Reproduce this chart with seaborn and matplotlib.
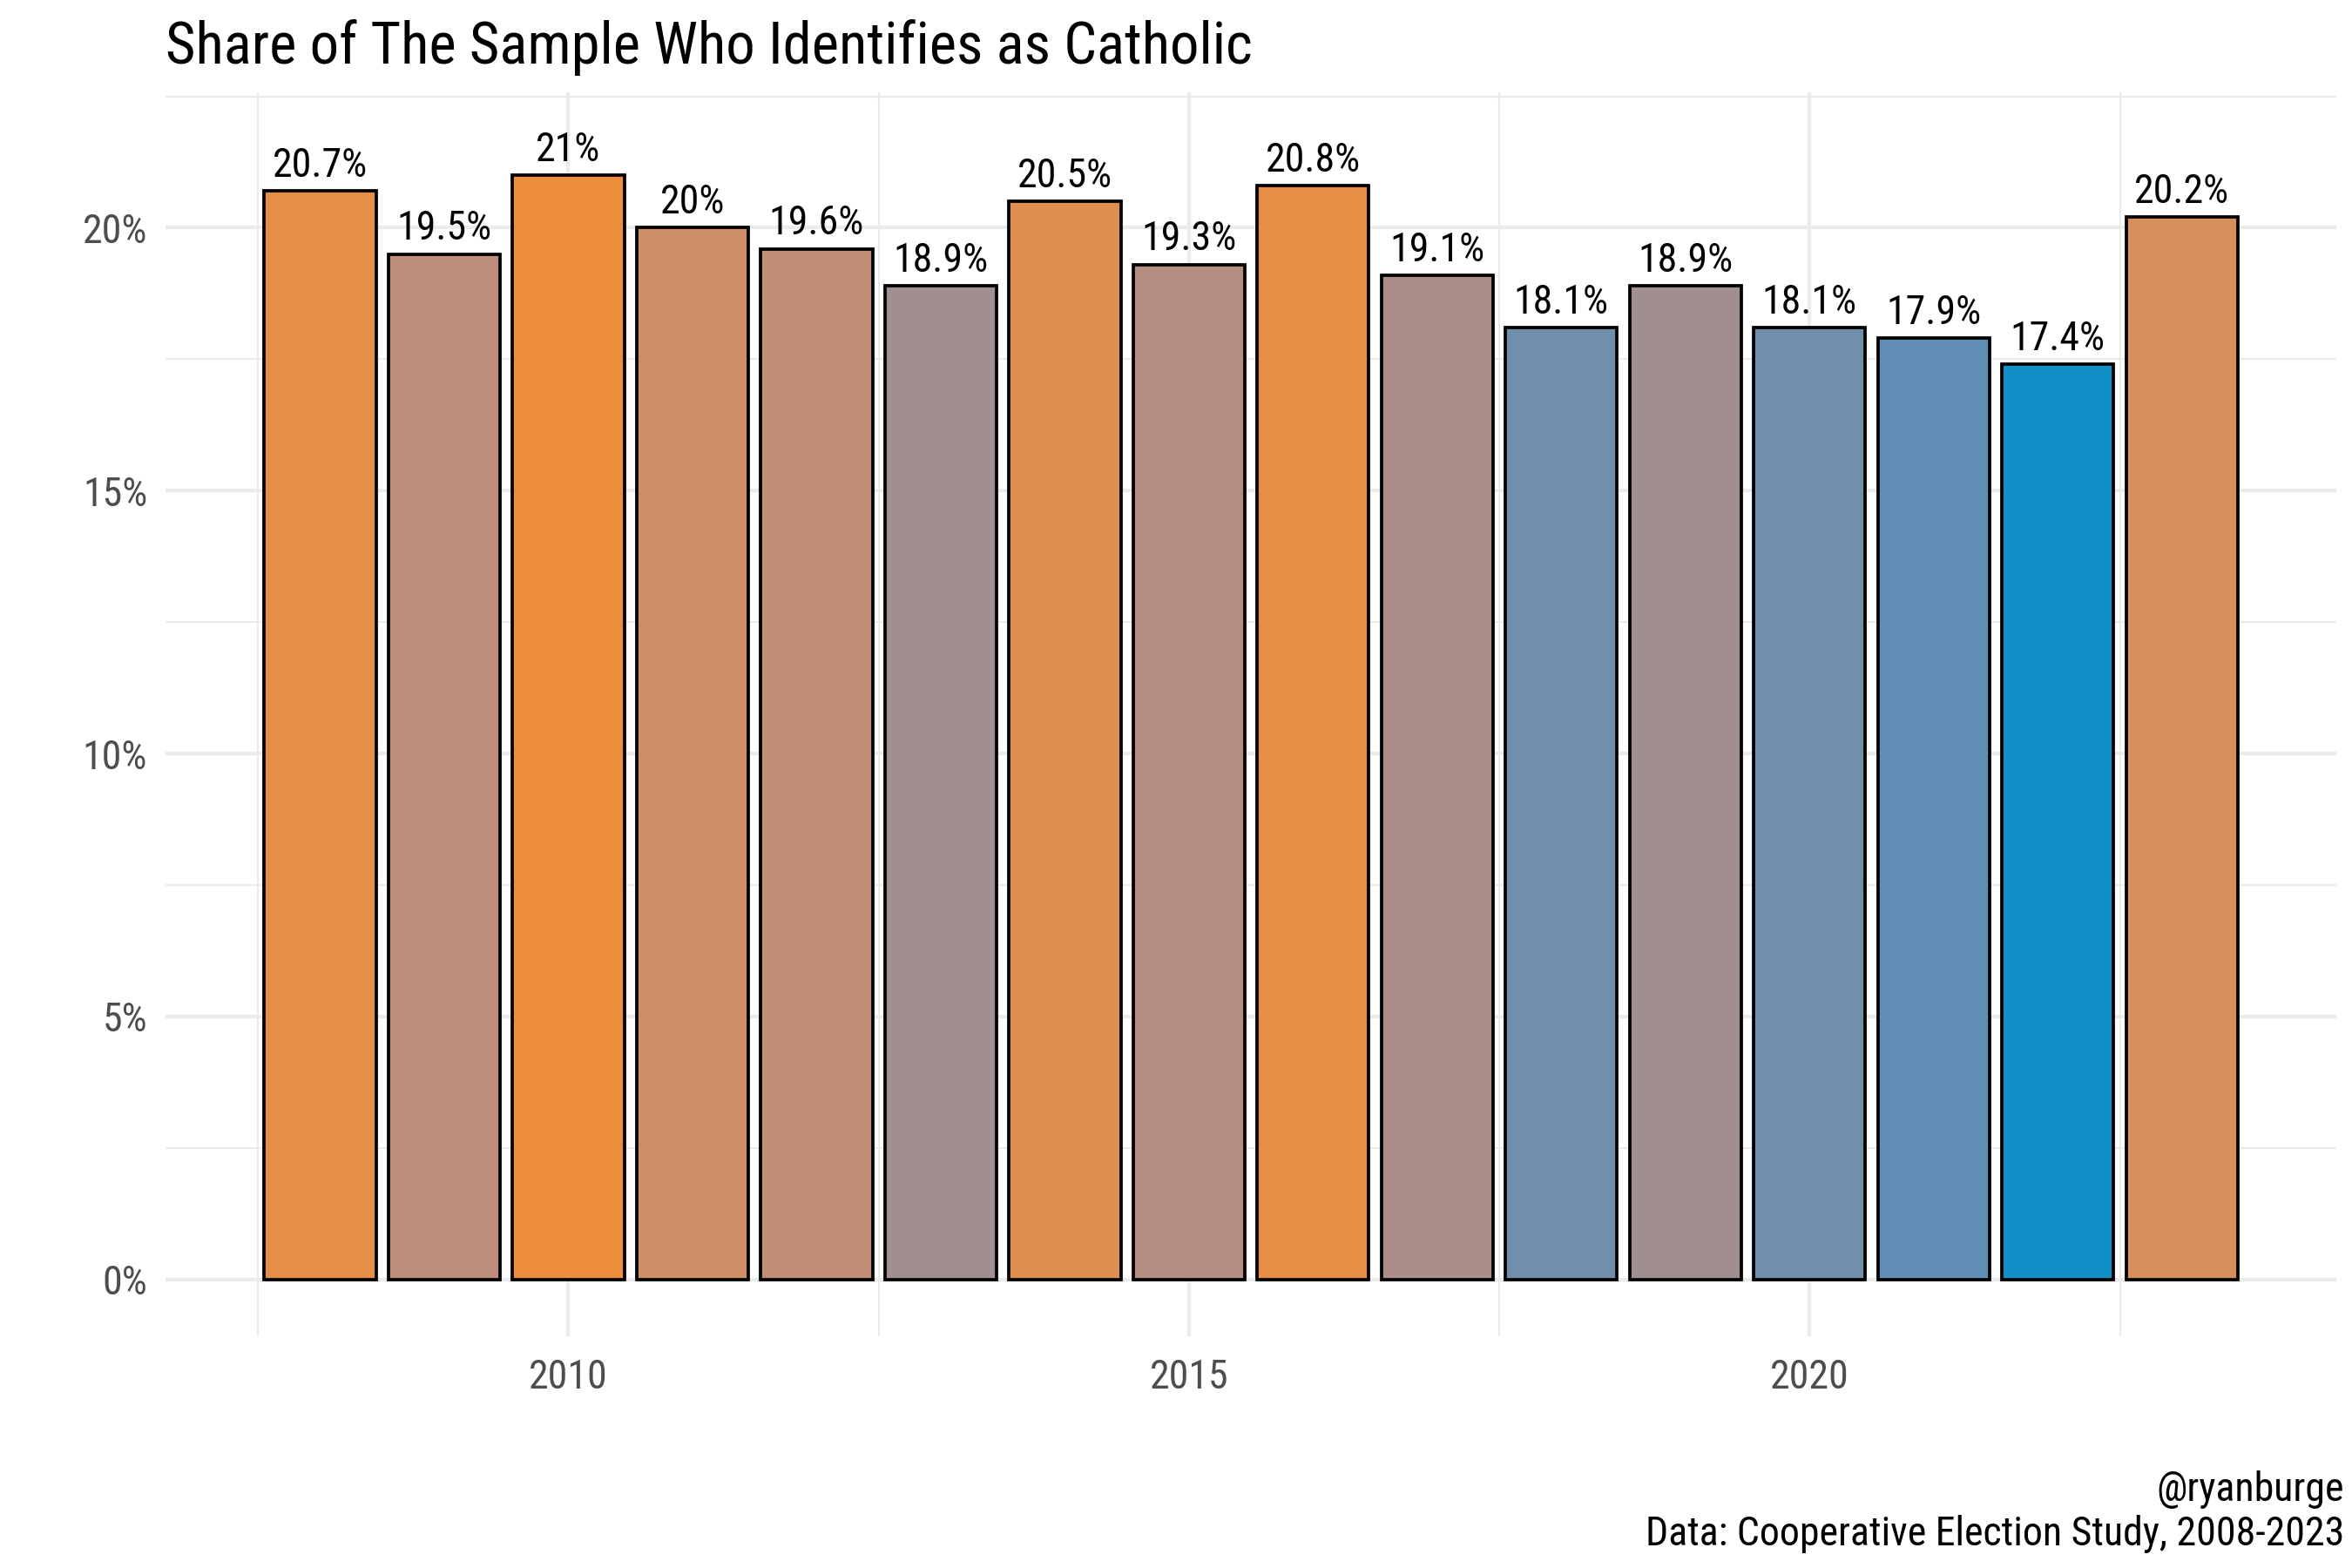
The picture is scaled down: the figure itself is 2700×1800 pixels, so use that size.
import matplotlib
matplotlib.use("Agg")
import matplotlib.pyplot as plt
import matplotlib.font_manager as fm
from matplotlib.colors import LinearSegmentedColormap
from matplotlib.ticker import MultipleLocator, FuncFormatter
import pandas as pd
import seaborn as sns

# ---- data ----
years = [2008, 2009, 2010, 2011, 2012, 2013, 2014, 2015,
         2016, 2017, 2018, 2019, 2020, 2021, 2022, 2023]
share = [20.7, 19.5, 21.0, 20.0, 19.6, 18.9, 20.5, 19.3,
         20.8, 19.1, 18.1, 18.9, 18.1, 17.9, 17.4, 20.2]
bar_labels = ["20.7%", "19.5%", "21%", "20%", "19.6%", "18.9%", "20.5%", "19.3%",
              "20.8%", "19.1%", "18.1%", "18.9%", "18.1%", "17.9%", "17.4%", "20.2%"]

title = "Share of The Sample Who Identifies as Catholic"
caption_1 = "@ryanburge"
caption_2 = "Data: Cooperative Election Study, 2008-2023"

df = pd.DataFrame({"year": years, "share": share, "label": bar_labels})

# ---- fonts: try a narrow face to mimic the condensed look ----
sns.set_style("white")
installed = {f.name for f in fm.fontManager.ttflist}
family = "DejaVu Sans"
for cand in ["Roboto Condensed", "Liberation Sans Narrow", "Open Sans Condensed", "Liberation Sans"]:
    if cand in installed:
        family = cand
        break
plt.rcParams["font.family"] = [family, "DejaVu Sans"]

# blue -> grey -> orange gradient
lo, hi = min(share), max(share)
stops = [(17.4, "#1190C8"), (17.9, "#618EB4"), (18.1, "#728EAA"), (18.9, "#A18E8E"),
         (19.5, "#BC8E79"), (20.0, "#CE8E65"), (20.5, "#DE8E50"), (21.0, "#EC8E3A")]
cmap = LinearSegmentedColormap.from_list(
    "catholic", [((v - lo) / (hi - lo), c) for v, c in stops])

# ---- plot ----
fig = plt.figure(figsize=(9, 6), dpi=300)
ax = fig.add_axes([0.0704, 0.148, 0.923, 0.7931])

sns.barplot(data=df, x="year", y="share", hue="share", palette=cmap,
            hue_norm=(lo, hi), native_scale=True, width=0.9, saturation=1,
            edgecolor="black", linewidth=0.9, legend=False, ax=ax, zorder=3)

for x, y, t in zip(df["year"], df["share"], df["label"]):
    ax.text(x, y + 0.12, t, ha="center", va="bottom", fontsize=11,
            color="black", zorder=4)

ax.set_xlim(2006.755, 2024.245)
ax.set_ylim(-1.075, 22.575)

ax.xaxis.set_major_locator(MultipleLocator(5))
ax.xaxis.set_minor_locator(MultipleLocator(2.5))
ax.yaxis.set_major_locator(MultipleLocator(5))
ax.yaxis.set_minor_locator(MultipleLocator(2.5))
ax.xaxis.set_major_formatter(FuncFormatter(lambda v, p: f"{int(v)}"))
ax.yaxis.set_major_formatter(FuncFormatter(lambda v, p: f"{int(v)}%"))

ax.grid(which="major", color="#EBEBEB", linewidth=1.0, zorder=0)
ax.grid(which="minor", color="#EBEBEB", linewidth=0.5, zorder=0)
ax.set_axisbelow(True)
for s in ax.spines.values():
    s.set_visible(False)
ax.tick_params(which="both", length=0)
ax.tick_params(axis="y", pad=5, labelsize=11, labelcolor="#4D4D4D")
ax.tick_params(axis="x", pad=6, labelsize=11, labelcolor="#4D4D4D")
ax.set_xlabel("")
ax.set_ylabel("")

fig.text(0.0704, 0.9594, title, fontsize=16, color="black", ha="left", va="baseline")
fig.text(0.9967, 0.043, caption_1, fontsize=11, color="black", ha="right", va="baseline")
fig.text(0.9967, 0.0142, caption_2, fontsize=11, color="black", ha="right", va="baseline")

fig.savefig("out.png", dpi=300)
